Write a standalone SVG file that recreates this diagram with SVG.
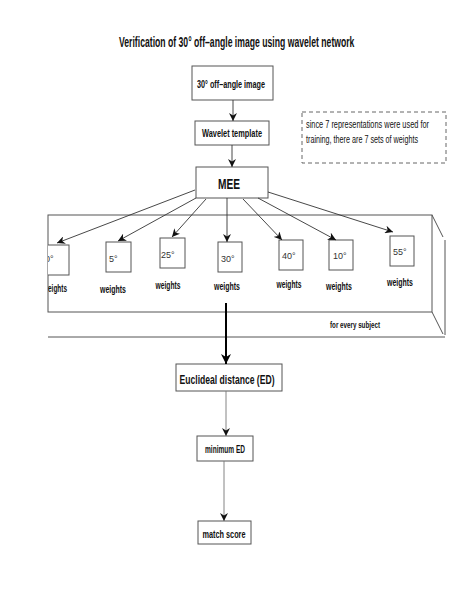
<svg xmlns="http://www.w3.org/2000/svg" width="474" height="591" viewBox="0 0 474 591">
<style>
  text { font-family: "Liberation Sans", Arial, sans-serif; fill: #111; }
  .b { font-weight: bold; }
  .box { fill: #fff; stroke: #555; stroke-width: 1; }
  .wbox { fill: #fff; stroke: #555; stroke-width: 1; }
  .frame { fill: none; stroke: #555; stroke-width: 1; }
  .conn { stroke: #333; stroke-width: 0.9; fill: none; marker-end: url(#ah); }
  .conn2 { stroke: #777; stroke-width: 0.9; fill: none; marker-end: url(#ah); }
  .thick { stroke: #000; stroke-width: 2; fill: none; marker-end: url(#ahb); }
  .deg { font-size: 9px; fill: #333; }
  .wt { font-size: 10px; font-weight: bold; }
</style>
<defs>
  <marker id="ah" viewBox="0 0 10 10" refX="10" refY="5" markerWidth="8" markerHeight="8" markerUnits="userSpaceOnUse" orient="auto">
    <path d="M0,0 L10,5 L0,10 L3,5 z" fill="#111"/>
  </marker>
  <marker id="ahb" viewBox="0 0 10 10" refX="10" refY="5" markerWidth="10" markerHeight="10" markerUnits="userSpaceOnUse" orient="auto">
    <path d="M0,0 L10,5 L0,10 L3,5 z" fill="#000"/>
  </marker>
  <clipPath id="leftclip"><rect x="48" y="200" width="400" height="150"/></clipPath>
</defs>

<g id="title">
  <text x="0" y="0" font-size="14" class="b" transform="translate(119,47) scale(0.618,1)">Verification of 30° off–angle image using wavelet network</text>
</g>

<g id="note">
  <rect x="302" y="112" width="144" height="51" fill="none" stroke="#666" stroke-width="1" stroke-dasharray="4,3"/>
  <text x="306" y="128" font-size="10" textLength="123" lengthAdjust="spacingAndGlyphs">since 7 representations were used for</text>
  <text x="306" y="143" font-size="10" textLength="112" lengthAdjust="spacingAndGlyphs">training, there are 7 sets of weights</text>
</g>

<g id="frame3d">
  <rect class="frame" x="48" y="215" width="384" height="97"/>
  <line class="frame" x1="432" y1="215" x2="443" y2="237"/>
  <line class="frame" x1="445" y1="240" x2="445" y2="335"/>
  <line class="frame" x1="432" y1="312" x2="443" y2="334"/>
  <line class="frame" x1="48" y1="337" x2="445" y2="337"/>
  <text x="355" y="328" font-size="9" class="b" text-anchor="middle" textLength="50" lengthAdjust="spacingAndGlyphs">for every subject</text>
</g>

<g id="n-image">
  <rect class="box" x="192" y="66" width="81" height="34"/>
  <text x="197" y="88" font-size="11" class="b" textLength="68" lengthAdjust="spacingAndGlyphs">30° off–angle image</text>
</g>

<g id="n-wavelet">
  <rect class="box" x="195" y="121" width="74" height="24"/>
  <text x="232" y="137" font-size="11" class="b" text-anchor="middle" textLength="60" lengthAdjust="spacingAndGlyphs">Wavelet template</text>
</g>

<g id="n-mee">
  <rect class="box" x="196" y="167" width="72" height="31"/>
  <text x="229" y="189" font-size="15" class="b" text-anchor="middle" textLength="22" lengthAdjust="spacingAndGlyphs">MEE</text>
</g>

<g id="w0" clip-path="url(#leftclip)">
  <rect class="wbox" x="44" y="245" width="25" height="30"/>
  <text x="45" y="262" class="deg">0°</text>
  <text x="55" y="292" class="wt" text-anchor="middle" textLength="24" lengthAdjust="spacingAndGlyphs">weights</text>
</g>
<g id="w5">
  <rect class="wbox" x="106" y="242" width="25" height="30"/>
  <text x="109" y="262" class="deg">5°</text>
  <text x="113" y="293" class="wt" text-anchor="middle" textLength="26" lengthAdjust="spacingAndGlyphs">weights</text>
</g>
<g id="w25">
  <rect class="wbox" x="160" y="238" width="25" height="30"/>
  <text x="161" y="258" class="deg">25°</text>
  <text x="168" y="289" class="wt" text-anchor="middle" textLength="25" lengthAdjust="spacingAndGlyphs">weights</text>
</g>
<g id="w30">
  <rect class="wbox" x="218" y="242" width="24" height="30"/>
  <text x="221" y="262" class="deg">30°</text>
  <text x="227" y="290" class="wt" text-anchor="middle" textLength="26" lengthAdjust="spacingAndGlyphs">weights</text>
</g>
<g id="w40">
  <rect class="wbox" x="279" y="240" width="24" height="30"/>
  <text x="282" y="259" class="deg">40°</text>
  <text x="289" y="288" class="wt" text-anchor="middle" textLength="25" lengthAdjust="spacingAndGlyphs">weights</text>
</g>
<g id="w10">
  <rect class="wbox" x="329" y="240" width="24" height="30"/>
  <text x="333" y="259" class="deg">10°</text>
  <text x="339" y="290" class="wt" text-anchor="middle" textLength="26" lengthAdjust="spacingAndGlyphs">weights</text>
</g>
<g id="w55">
  <rect class="wbox" x="390" y="236" width="24" height="30"/>
  <text x="393" y="255" class="deg">55°</text>
  <text x="400" y="286" class="wt" text-anchor="middle" textLength="26" lengthAdjust="spacingAndGlyphs">weights</text>
</g>

<g id="n-ed">
  <rect class="box" x="176" y="364" width="106" height="27"/>
  <text x="227" y="384" font-size="13" class="b" text-anchor="middle" textLength="95" lengthAdjust="spacingAndGlyphs">Euclideal distance (ED)</text>
</g>

<g id="n-min">
  <rect class="box" x="197" y="436" width="56" height="25"/>
  <text x="225" y="453" font-size="10" class="b" text-anchor="middle" textLength="40" lengthAdjust="spacingAndGlyphs">minimum ED</text>
</g>

<g id="n-match">
  <rect class="box" x="198" y="521" width="53" height="23"/>
  <text x="224" y="538" font-size="11" class="b" text-anchor="middle" textLength="43" lengthAdjust="spacingAndGlyphs">match score</text>
</g>

<g id="connectors">
  <line class="conn" x1="233" y1="100" x2="233" y2="121"/>
  <line class="conn" x1="232" y1="145" x2="232" y2="167"/>
  <line class="conn" x1="195" y1="190" x2="57" y2="243"/>
  <line class="conn" x1="196" y1="198" x2="118" y2="241"/>
  <line class="conn" x1="206" y1="199" x2="172" y2="237"/>
  <line class="conn" x1="227" y1="198" x2="227" y2="242"/>
  <line class="conn" x1="243" y1="199" x2="282" y2="240"/>
  <line class="conn" x1="258" y1="198" x2="336" y2="240"/>
  <line class="conn" x1="268" y1="192" x2="393" y2="232"/>
  <line class="thick" x1="226" y1="303" x2="226" y2="364"/>
  <line class="conn2" x1="226" y1="391" x2="226" y2="436"/>
  <line class="conn2" x1="224" y1="461" x2="224" y2="521"/>
</g>
</svg>
